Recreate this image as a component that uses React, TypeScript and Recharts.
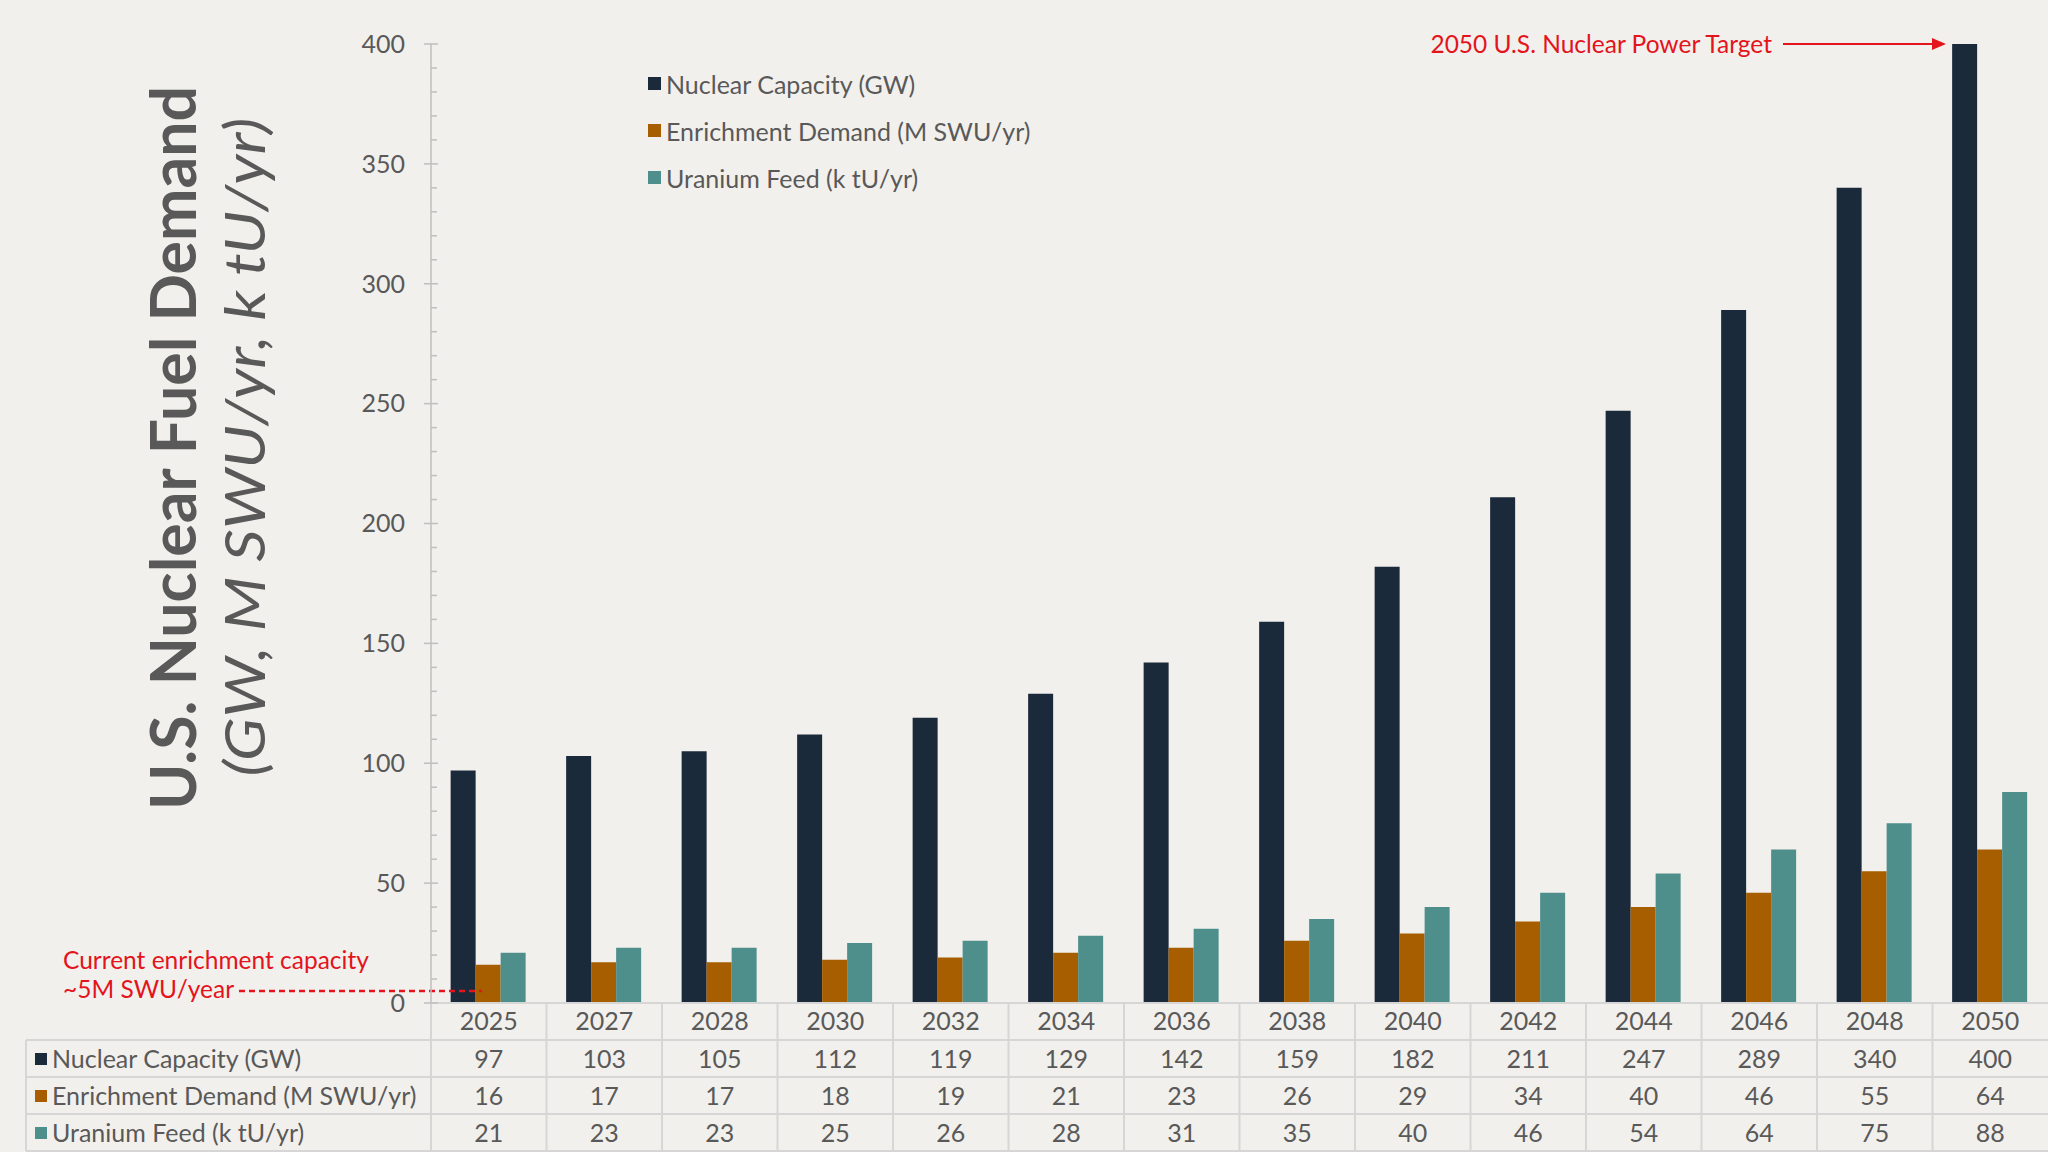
import { Bar, BarChart, Legend, ReferenceLine, XAxis, YAxis } from "recharts";

const YEARS = ["2025", "2027", "2028", "2030", "2032", "2034", "2036", "2038", "2040", "2042", "2044", "2046", "2048", "2050"];
const NUCLEAR_CAPACITY = [97, 103, 105, 112, 119, 129, 142, 159, 182, 211, 247, 289, 340, 400];
const ENRICHMENT_DEMAND = [16, 17, 17, 18, 19, 21, 23, 26, 29, 34, 40, 46, 55, 64];
const URANIUM_FEED = [21, 23, 23, 25, 26, 28, 31, 35, 40, 46, 54, 64, 75, 88];
const Y_TICK_LABELS = [0, 50, 100, 150, 200, 250, 300, 350, 400];
const SERIES_NAMES = ["Nuclear Capacity (GW)", "Enrichment Demand (M SWU/yr)", "Uranium Feed (k tU/yr)"];

const COLORS = ["#1b2a3a", "#a65e00", "#4e8e8b"];
const BG = "#f2f0ec";
const TEXT = "#595959";
const GRID = "#d6d6d6";
const RED = "#e3141c";
const FONT = "Lato, 'Open Sans', sans-serif";

const W = 2048;
const H = 1152;
const PLOT_LEFT = 431;
const PLOT_TOP = 44;
const PLOT_BOTTOM = 1003;
const BAND = (W - PLOT_LEFT) / YEARS.length;
// text centres of the table rows, relative to the axis line
const ROW_OFFSETS = [18, 56, 93, 130];
const ROW_LINES = [1040, 1077, 1114, 1151];

// minor ticks every 10, labels every 50
const Y_TICKS: number[] = [];
for (let v = 0; v <= 400; v += 10) Y_TICKS.push(v);

const data = YEARS.map((year, i) => ({
  year,
  nuclear: NUCLEAR_CAPACITY[i],
  enrichment: ENRICHMENT_DEMAND[i],
  uranium: URANIUM_FEED[i],
}));

function YTick(props: any) {
  const { x, y, payload } = props;
  const major = Y_TICK_LABELS.includes(payload.value);
  if (!major) {
    return <line x1={x} x2={x + 6} y1={y} y2={y} stroke="#bfbfbf" strokeWidth={1.5} />;
  }
  return (
    <g>
      <line x1={x - 7} x2={x + 7} y1={y} y2={y} stroke="#bfbfbf" strokeWidth={1.5} />
      <text x={x - 26} y={y} dy="0.35em" textAnchor="end" fontSize={25} fill={TEXT} fontFamily={FONT}>
        {payload.value}
      </text>
    </g>
  );
}

// each x tick draws its own column of the data table
function TableTick(props: any) {
  const { x, y, payload } = props;
  const i = YEARS.indexOf(String(payload.value));
  const cells = [YEARS[i], NUCLEAR_CAPACITY[i], ENRICHMENT_DEMAND[i], URANIUM_FEED[i]];
  return (
    <g>
      <line x1={x - BAND / 2} x2={x - BAND / 2} y1={y} y2={H} stroke={GRID} strokeWidth={2} />
      {cells.map((c, r) => (
        <text key={r} x={x} y={y + ROW_OFFSETS[r]} dy="0.35em" textAnchor="middle" fontSize={25} fill={TEXT} fontFamily={FONT}>
          {c}
        </text>
      ))}
    </g>
  );
}

function LegendBox(props: any) {
  const items = [...(props.payload || [])].sort(
    (a: any, b: any) => SERIES_NAMES.indexOf(a.value) - SERIES_NAMES.indexOf(b.value)
  );
  return (
    <div style={{ fontFamily: FONT, fontSize: 25, color: TEXT }}>
      {items.map((e: any) => (
        <div key={e.value} style={{ display: "flex", alignItems: "center", height: 47, whiteSpace: "nowrap" }}>
          <span style={{ width: 13, height: 13, background: e.color, marginRight: 5, display: "inline-block" }} />
          {e.value}
        </div>
      ))}
    </div>
  );
}

function CapacityLine(props: any) {
  const { x1, y1 } = props;
  return (
    <g fontFamily={FONT} fontSize={24.5} fill={RED}>
      <text x={x1 - 368} y={y1 - 31} dy="0.35em">Current enrichment capacity</text>
      <text x={x1 - 368} y={y1 - 2} dy="0.35em">~5M SWU/year</text>
      <line x1={x1 - 192} x2={x1 + 51} y1={y1} y2={y1} stroke={RED} strokeWidth={2.5} strokeDasharray="6 4" />
    </g>
  );
}

function TargetArrow(props: any) {
  const { x2, y1 } = props;
  const tip = x2 - 102;
  return (
    <g fontFamily={FONT} fontSize={24.5} fill={RED}>
      <text x={x2 - 276} y={y1} dy="0.35em" textAnchor="end">2050 U.S. Nuclear Power Target</text>
      <line x1={x2 - 265} x2={tip - 12} y1={y1} y2={y1} stroke={RED} strokeWidth={2} />
      <path d={`M${tip},${y1} L${tip - 14},${y1 - 6} L${tip - 14},${y1 + 6} Z`} fill={RED} />
    </g>
  );
}

export default function App() {
  return (
    <div style={{ position: "absolute", left: 0, top: 0, width: W, height: H, background: BG, overflow: "hidden" }}>
      <BarChart
        width={W}
        height={H}
        data={data}
        margin={{ top: PLOT_TOP, right: 0, left: 0, bottom: 0 }}
        barGap={0}
        barCategoryGap="17%"
      >
        <XAxis
          dataKey="year"
          interval={0}
          height={H - PLOT_BOTTOM}
          tickSize={0}
          tickMargin={0}
          axisLine={{ stroke: GRID, strokeWidth: 2 }}
          tick={<TableTick />}
        />
        <YAxis
          width={PLOT_LEFT}
          domain={[0, 400]}
          ticks={Y_TICKS}
          interval={0}
          tickSize={0}
          tickMargin={0}
          axisLine={{ stroke: "#bfbfbf", strokeWidth: 1.5 }}
          tick={<YTick />}
        />
        <Legend
          layout="vertical"
          align="center"
          verticalAlign="middle"
          wrapperStyle={{ left: 648, top: 60, width: "auto" }}
          content={<LegendBox />}
        />
        <Bar dataKey="nuclear" name={SERIES_NAMES[0]} fill={COLORS[0]} isAnimationActive={false} />
        <Bar dataKey="enrichment" name={SERIES_NAMES[1]} fill={COLORS[1]} isAnimationActive={false} />
        <Bar dataKey="uranium" name={SERIES_NAMES[2]} fill={COLORS[2]} isAnimationActive={false} />
        <ReferenceLine y={5} ifOverflow="visible" shape={<CapacityLine />} />
        <ReferenceLine y={400} ifOverflow="visible" shape={<TargetArrow />} />
      </BarChart>

      <svg width={W} height={H} style={{ position: "absolute", left: 0, top: 0, pointerEvents: "none" }}>
        <g fill={TEXT} fontFamily={FONT}>
          <text
            transform="translate(196,448) rotate(-90)"
            textAnchor="middle"
            fontSize={64}
            fontWeight={700}
            textLength={724}
            lengthAdjust="spacingAndGlyphs"
          >
            U.S. Nuclear Fuel Demand
          </text>
          <text
            transform="translate(265,447) rotate(-90)"
            textAnchor="middle"
            fontSize={56}
            fontStyle="italic"
            textLength={659}
            lengthAdjust="spacingAndGlyphs"
          >
            (GW, M SWU/yr, k tU/yr)
          </text>
        </g>
        {ROW_LINES.map((y) => (
          <line key={y} x1={26} x2={W} y1={y} y2={y} stroke={GRID} strokeWidth={2} />
        ))}
        <line x1={26} x2={26} y1={ROW_LINES[0]} y2={ROW_LINES[3]} stroke={GRID} strokeWidth={2} />
        {SERIES_NAMES.map((name, r) => (
          <g key={name}>
            <rect x={35} y={PLOT_BOTTOM + ROW_OFFSETS[r + 1] - 6} width={12} height={12} fill={COLORS[r]} />
            <text x={52} y={PLOT_BOTTOM + ROW_OFFSETS[r + 1]} dy="0.35em" fontSize={25} fill={TEXT} fontFamily={FONT}>
              {name}
            </text>
          </g>
        ))}
      </svg>
    </div>
  );
}
